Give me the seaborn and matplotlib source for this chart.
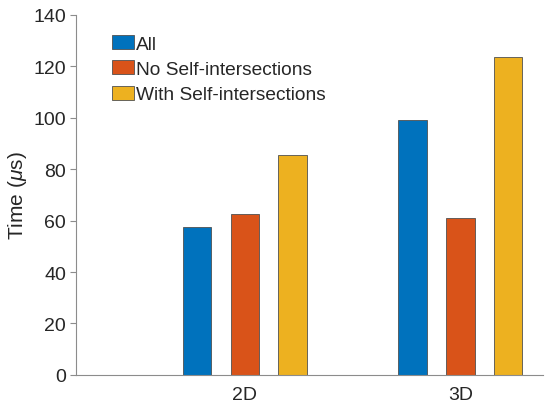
import pandas as pd
import numpy as np
import seaborn as sns
import matplotlib.pyplot as plt

# values
dims = ['2D', '3D']
series = ['All', 'No Self-intersections', 'With Self-intersections']
times_all = [57.6, 98.9]
times_no_self = [62.4, 60.8]
times_with_self = [85.5, 123.4]
colors = ['#0072BD', '#D95319', '#EDB120']

df = pd.DataFrame({
    'Dim': dims * 3,
    'Type': [s for s in series for _ in dims],
    'Time': times_all + times_no_self + times_with_self,
})

sns.set_style('white')
plt.rcParams['font.family'] = ['Liberation Sans', 'DejaVu Sans']
plt.rcParams['mathtext.fontset'] = 'custom'
plt.rcParams['mathtext.it'] = 'Liberation Sans:italic'
plt.rcParams['mathtext.rm'] = 'Liberation Sans'

fig = plt.figure(figsize=(5.5, 4.1), dpi=100)
ax = fig.add_axes([0.138, 0.083, 0.849, 0.879])

sns.barplot(data=df, x='Dim', y='Time', hue='Type', hue_order=series,
            palette=colors, saturation=1, width=0.664, gap=0.4, errorbar=None,
            edgecolor='#505050', linewidth=0.6, ax=ax)

ax.set_xlim(-0.784, 1.383)
ax.set_ylim(0, 140)
ax.set_yticks(np.arange(0, 141, 20))
ax.set_xlabel('')
ax.set_ylabel(r'Time ($\mu$s)', fontsize=15, color='#262626', labelpad=3)

for side in ['top', 'right']:
    ax.spines[side].set_visible(False)
for side in ['left', 'bottom']:
    ax.spines[side].set_color('#8c8c8c')
    ax.spines[side].set_linewidth(0.8)

ax.tick_params(axis='y', direction='out', length=4, width=0.8, color='#8c8c8c',
               labelsize=14, labelcolor='#262626', left=True, pad=3)
ax.tick_params(axis='x', length=0, labelsize=14, labelcolor='#262626', pad=8)

ax.legend(loc='upper left', bbox_to_anchor=(0.06, 0.965), frameon=False,
          fontsize=13.8, handlelength=1.15, handleheight=0.75,
          handletextpad=0.1, labelspacing=0.4, borderaxespad=0)

fig.savefig('out.png', dpi=100)
